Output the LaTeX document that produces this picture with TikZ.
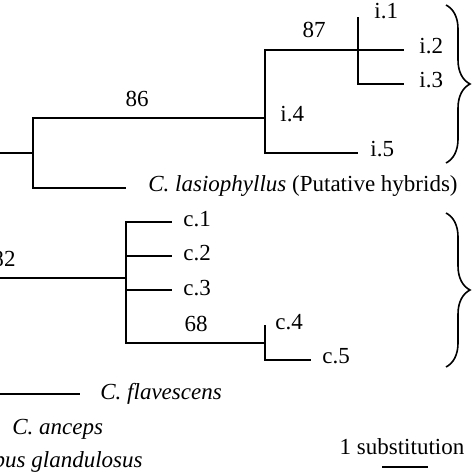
\documentclass[tikz,border=0pt]{standalone}
\usepackage{fontspec}
\setmainfont{Liberation Serif}
\usetikzlibrary{positioning,decorations.pathreplacing}

\begin{document}
\begin{tikzpicture}[x=0.5pt, y=-0.5pt,
    branch/.style={line width=0.9pt, black},
    leaf/.style={anchor=base west, inner sep=0pt, font=\fontsize{11.5}{13}\selectfont},
    taxon/.style={leaf, font=\fontsize{11.5}{13}\selectfont\itshape},
    boot/.style={anchor=base, inner sep=0pt, font=\fontsize{11.5}{13}\selectfont},
    grp/.style={line width=0.8pt, decorate, decoration={brace, amplitude=12pt}}
  ]
    \useasboundingbox (0,0) rectangle (474,474);
    \clip (0,0) rectangle (474,474);

    % Putative hybrids
    \coordinate (base1) at (0,153);
    \coordinate (n1)    at (33,153);
    \coordinate (n2)    at (265,118);
    \coordinate (n3)    at (358,50);
    \coordinate (ti1)   at (358,17);
    \coordinate (ti2)   at (404,50);
    \coordinate (ti3)   at (404,84);
    \coordinate (ti5)   at (358,153);
    \coordinate (tlas)  at (126,188);

    \node[boot] (b86) at (137,107) {86};
    \node[boot] (b87) at (314,38)  {87};
    \node[leaf] (i1)  at (374,19)  {i.1};
    \node[leaf] (i2)  at (419,54)  {i.2};
    \node[leaf] (i3)  at (419,88)  {i.3};
    \node[leaf] (i4)  at (280,122) {i.4};
    \node[leaf] (i5)  at (370,157) {i.5};
    \node[taxon] (las) at (148,192) {C. lasiophyllus \upshape(Putative hybrids)};

    % C. lasiophyllus
    \coordinate (base2) at (0,278);
    \coordinate (n4)    at (126,278);
    \coordinate (tc1)   at (172,222);
    \coordinate (tc2)   at (172,256);
    \coordinate (tc3)   at (172,290);
    \coordinate (n5)    at (265,343);
    \coordinate (tc4)   at (265,325);
    \coordinate (tc5)   at (311,360);

    \node[boot] (b82) at (4,267)   {82};
    \node[boot] (b68) at (196,331) {68};
    \node[leaf] (c1)  at (183,227) {c.1};
    \node[leaf] (c2)  at (183,261) {c.2};
    \node[leaf] (c3)  at (183,296) {c.3};
    \node[leaf] (c4)  at (275,329) {c.4};
    \node[leaf] (c5)  at (322,363) {c.5};

    % Outgroups
    \coordinate (base3) at (0,394);
    \coordinate (tfl)   at (80,394);
    \node[taxon] (fla) at (100,399) {C. flavescens};
    \node[taxon] (anc) at (12,434)  {C. anceps};
    \node[taxon, anchor=base east] (gla) at (143,467) {Adenocarpus glandulosus};

    % Scale
    \coordinate (sb1) at (382,467);
    \coordinate (sb2) at (428,467);
    \node[boot] (sbl) at (402,454) {1 substitution};

    % Branches
    \draw[branch] (base1) -- (n1);
    \draw[branch] (n1) |- (n2);
    \draw[branch] (n1) |- (tlas);
    \draw[branch] (n2) |- (n3);
    \draw[branch] (n2) |- (ti5);
    \draw[branch] (n3) -- (ti1);
    \draw[branch] (n3) -- (ti2);
    \draw[branch] (n3) |- (ti3);

    \draw[branch] (base2) -- (n4);
    \draw[branch] (n4) |- (tc1);
    \draw[branch] (n4) |- (tc2);
    \draw[branch] (n4) |- (tc3);
    \draw[branch] (n4) |- (n5);
    \draw[branch] (n5) -- (tc4);
    \draw[branch] (n5) |- (tc5);

    \draw[branch] (base3) -- (tfl);
    \draw[branch] (sb1) -- (sb2);

    % Braces
    \coordinate (g1a) at (446,5);
    \coordinate (g1b) at (446,163);
    \coordinate (g2a) at (446,213);
    \coordinate (g2b) at (446,367);
    \draw[grp] (g1a) -- (g1b);
    \draw[grp] (g2a) -- (g2b);
  \end{tikzpicture}
\end{document}
